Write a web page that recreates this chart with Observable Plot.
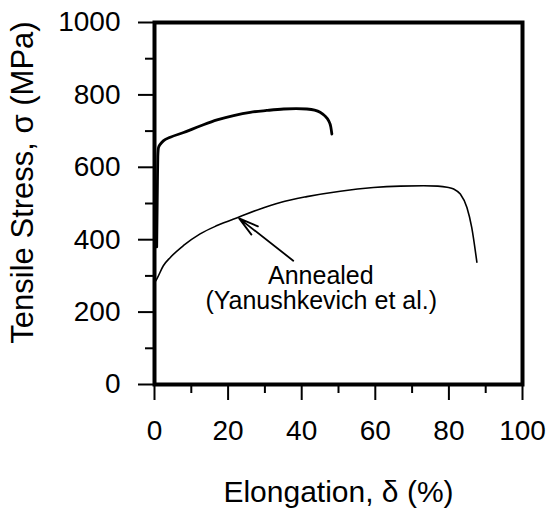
<!DOCTYPE html>
<html>
<head>
<meta charset="utf-8">
<script src="https://cdn.jsdelivr.net/npm/d3@7"></script>
<script src="https://cdn.jsdelivr.net/npm/@observablehq/plot@0.6"></script>
<style>
  html, body { margin: 0; padding: 0; background: white; }
</style>
</head>
<body>
<div id="chart"></div>
<script>
// Processed steel curve (thick line)
const upperX = [0.6, 0.8, 0.9, 1.1, 1.6, 2.4, 4.3, 7.9, 12.4, 17.0, 21.5, 26.0, 30.5, 35.1, 38.5, 41.4, 43.5, 45.0, 46.3, 47.3, 47.9, 48.2];
const upperY = [380, 560, 630, 655, 664, 673, 683, 696, 714, 731, 743, 752, 757, 761, 762, 761, 758, 752, 742, 729, 712, 692];

// Annealed curve (thin line)
const lowerX = [0.1, 0.65, 2.4, 4.3, 7.9, 12.4, 17.0, 23.3, 28.7, 34.2, 41.4, 50.5, 59.5, 66.8, 73.1, 77.0, 79.5, 81.3, 83.1, 84.9, 86.2, 87.6];
const lowerY = [283, 292, 328, 351, 384, 416, 439, 464, 485, 503, 519, 534, 544, 548, 549, 548, 545, 540, 526, 489, 434, 338];

// Annotation
const noteLines = ["Annealed", "(Yanushkevich et al.)"];
const noteX = [45.2, 45.3];
const noteY = [279, 208];
const arrowFrom = [37.7, 342];
const arrowTo = [23.0, 459];

// Axes
const xMajor = [0, 20, 40, 60, 80, 100];
const xMinor = [10, 30, 50, 70, 90];
const yMajor = [0, 200, 400, 600, 800, 1000];
const yMinor = [100, 300, 500, 700, 900];
const xTitle = "Elongation, δ (%)";
const yTitle = "Tensile Stress, σ (MPa)";

const upper = upperX.map((x, i) => ({x, y: upperY[i]}));
const lower = lowerX.map((x, i) => ({x, y: lowerY[i]}));
const notes = noteLines.map((t, i) => ({t, x: noteX[i], y: noteY[i]}));
const arrows = [{x1: arrowFrom[0], y1: arrowFrom[1], x2: arrowTo[0], y2: arrowTo[1]}];

const fmt = d3.format("d");

const chart = Plot.plot({
  width: 550,
  height: 514,
  marginLeft: 154,
  marginRight: 28,
  marginTop: 22,
  marginBottom: 130,
  style: {fontFamily: "'Liberation Sans', Arial, sans-serif", color: "black", background: "white"},
  x: {domain: [0, 100]},
  y: {domain: [0, 1000]},
  marks: [
    Plot.axisX(xMinor, {tickSize: 9, strokeWidth: 2, text: null, label: null}),
    Plot.axisY(yMinor, {tickSize: 9, strokeWidth: 2, text: null, label: null}),
    Plot.axisX(xMajor, {tickSize: 16, tickPadding: 20, strokeWidth: 2, fontSize: 28, tickFormat: fmt, label: null}),
    Plot.axisY(yMajor, {tickSize: 16, tickPadding: 18, strokeWidth: 2, fontSize: 28, tickFormat: fmt, label: null}),
    Plot.line(lower, {x: "x", y: "y", stroke: "black", strokeWidth: 1.6, curve: "monotone-x"}),
    Plot.line(upper, {x: "x", y: "y", stroke: "black", strokeWidth: 2.8, curve: "monotone-x"}),
    Plot.arrow(arrows, {x1: "x1", y1: "y1", x2: "x2", y2: "y2", stroke: "black", strokeWidth: 1.8, headLength: 17, headAngle: 30}),
    Plot.text(notes, {x: "x", y: "y", text: "t", fontSize: 25, lineAnchor: "bottom", textAnchor: "middle", fill: "black"}),
    Plot.text([xTitle], {text: d => d, frameAnchor: "bottom", lineAnchor: "bottom", textAnchor: "middle", dy: 117, fontSize: 30, fill: "black"}),
    Plot.text([yTitle], {text: d => d, frameAnchor: "left", rotate: -90, textAnchor: "middle", lineAnchor: "middle", dx: -131, dy: -21, fontSize: 31, fill: "black"}),
    Plot.frame({stroke: "black", strokeWidth: 4})
  ]
});
document.getElementById("chart").appendChild(chart);
</script>
</body>
</html>
